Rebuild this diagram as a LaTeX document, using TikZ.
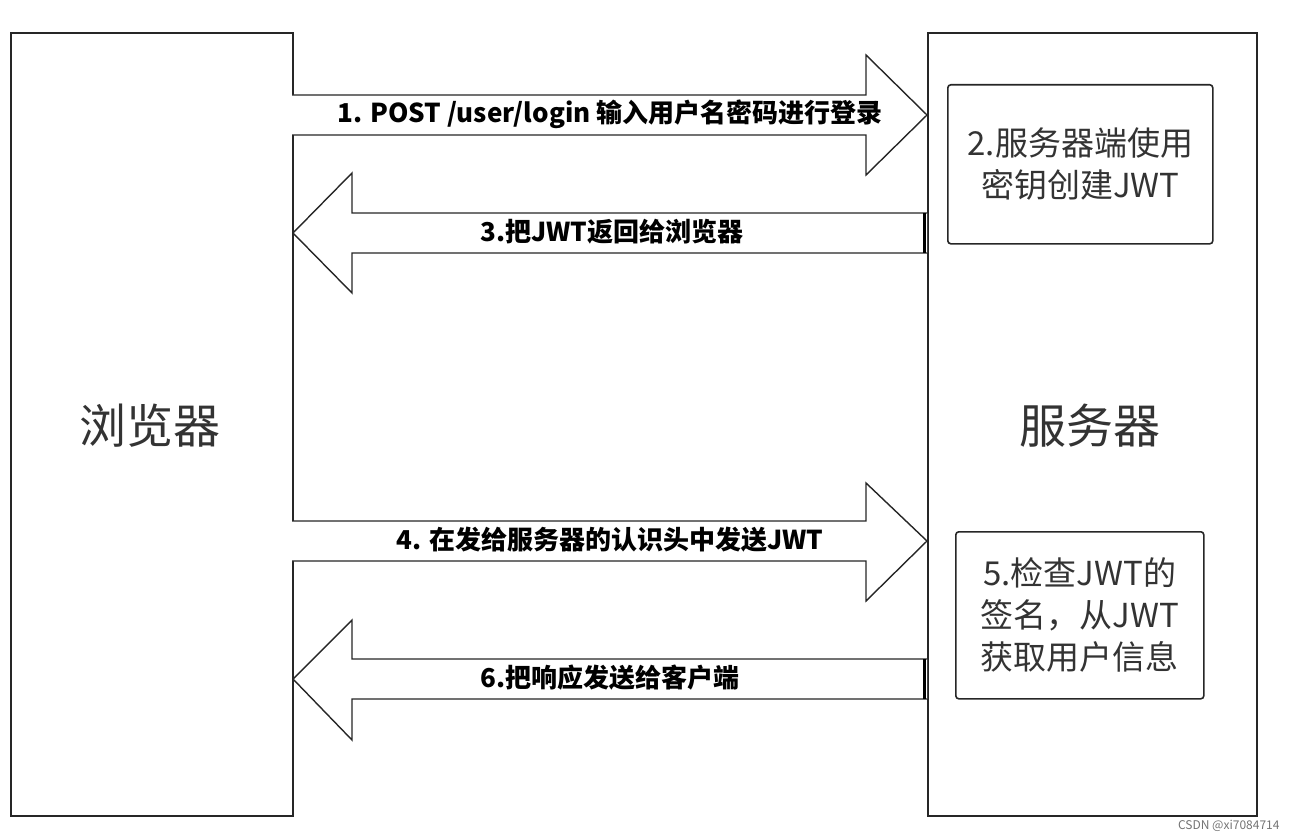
\documentclass[tikz,border=0pt]{standalone}
\usepackage{fontspec}
\newfontfamily\cjk{Noto Sans CJK SC}
\tikzset{
 frame/.style={draw=black!85,line width=1.6pt},
 fat/.style={draw=black!85,line width=1.4pt,fill=white},
 lbl/.style={font=\cjk\bfseries\fontsize{26}{30}\selectfont},
 boxtxt/.style={font=\cjk\fontsize{33}{42}\selectfont,align=center,text=black!80},
 big/.style={font=\cjk\fontsize{47}{54}\selectfont,text=black!80}
}
\begin{document}
\begin{tikzpicture}[x=1pt,y=-1pt]
\useasboundingbox (0,0) rectangle (1298,840);
\node[frame,minimum width=282pt,minimum height=783pt,anchor=north west] (br) at (10,32) {};
\node[frame,minimum width=329pt,minimum height=783pt,anchor=north west] (sv) at (927,32) {};
\node[big] at (150,426) {浏览器};
\node[big] at (1090,426) {服务器};
% arrow 1
\draw[fat] (292,95) -- (866,95) -- (866,55) -- (927,115) -- (866,175) -- (866,135) -- (292,135);
\node[lbl] (l1) at (610,114) {1. POST /user/login 输入用户名密码进行登录};
% arrow 3
\draw[fat] (927,213) -- (352,213) -- (352,173) -- (293,233) -- (352,293) -- (352,253) -- (927,253);
\node[lbl] (l3) at (612,232) {3.把JWT返回给浏览器};
% arrow 4
\draw[fat] (292,521) -- (866,521) -- (866,483) -- (927,541) -- (866,601) -- (866,561) -- (292,561);
\node[lbl] (l4) at (610,540) {4. 在发给服务器的认识头中发送JWT};
% arrow 6
\draw[fat] (927,659) -- (352,659) -- (352,620) -- (293,679) -- (352,740) -- (352,699) -- (927,699);
\node[lbl] (l6) at (610,678) {6.把响应发送给客户端};
\draw[line width=3pt] (924,213) -- (924,253) (924,659) -- (924,699);
% boxes
\node[frame,rounded corners=3pt,minimum width=265pt,minimum height=159pt,anchor=north west,fill=white] (b2) at (947,84) {};
\node[boxtxt] at (b2.center) {2.服务器端使用\\密钥创建JWT};
\node[frame,rounded corners=3pt,minimum width=248pt,minimum height=167pt,anchor=north west,fill=white] (b5) at (955,531) {};
\node[boxtxt] at (b5.center) {5.检查JWT的\\签名，从JWT\\获取用户信息};
\node[font=\cjk\fontsize{12}{14}\selectfont,text=black!55,anchor=east] (wm) at (1283,826) {CSDN @xi7084714};
\end{tikzpicture}
\end{document}
